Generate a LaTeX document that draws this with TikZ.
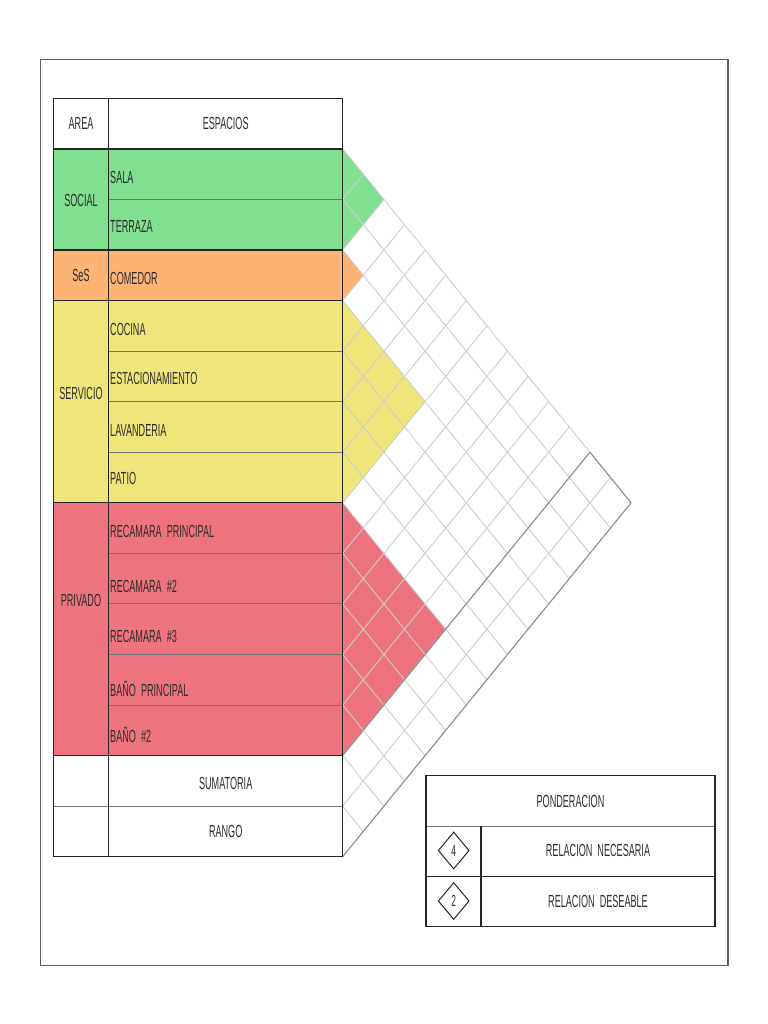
\documentclass[tikz,border=0pt]{standalone}
\usepackage{fontspec}
\setmainfont{Liberation Sans}[FakeStretch=0.52]
\usetikzlibrary{shapes.geometric}
\definecolor{cgreen}{RGB}{128,224,143}
\definecolor{corange}{RGB}{253,179,116}
\definecolor{cyellow}{RGB}{238,230,122}
\definecolor{cred}{RGB}{237,116,126}
\definecolor{gridgray}{RGB}{205,205,205}
\definecolor{darkgrid}{RGB}{140,140,140}
\definecolor{txt}{RGB}{45,45,45}
\definecolor{framegray}{RGB}{95,95,95}
\def\XLeft{53.3}
\def\XMid{108.7}
\def\XRight{342.7}
\def\YTop{98.3}
\def\RowH{50.56}
\def\StepX{41.2}
\begin{document}
\begin{tikzpicture}[x=1bp,y=-1bp,
  lbl/.style={inner sep=0pt, text=txt, font=\fontsize{17.5bp}{20bp}\selectfont, text height=12.5bp, text depth=0pt},
  lblw/.style={lbl, anchor=west},
  gridl/.style={draw=gridgray, line width=0.9bp},
  darkl/.style={draw=darkgrid, line width=1bp},
  thinrow/.style={draw=black!55, line width=1bp},
  grouprow/.style={draw=black!85, line width=1.3bp},
  legdia/.style={diamond, draw=black!85, line width=1bp, inner sep=0pt, minimum width=31bp, minimum height=37bp, text=txt, font=\fontsize{16bp}{18bp}\selectfont}
]
\useasboundingbox (0,0) rectangle (768,1024);
% outer frame
\draw[draw=framegray, line width=1.4bp] (40.5,59.5) rectangle (728,965.5);

% coloured rows and triangles
\fill[cgreen] (\XLeft,{\YTop+1*\RowH}) rectangle (\XRight,{\YTop+3*\RowH});
\fill[cgreen] (\XRight,{\YTop+1*\RowH}) -- ({\XRight+\StepX},{\YTop+2*\RowH}) -- (\XRight,{\YTop+3*\RowH}) -- cycle;
\fill[corange] (\XLeft,{\YTop+3*\RowH}) rectangle (\XRight,{\YTop+4*\RowH});
\fill[corange] (\XRight,{\YTop+3*\RowH}) -- ({\XRight+0.5*\StepX},{\YTop+3.5*\RowH}) -- (\XRight,{\YTop+4*\RowH}) -- cycle;
\fill[cyellow] (\XLeft,{\YTop+4*\RowH}) rectangle (\XRight,{\YTop+8*\RowH});
\fill[cyellow] (\XRight,{\YTop+4*\RowH}) -- ({\XRight+2*\StepX},{\YTop+6*\RowH}) -- (\XRight,{\YTop+8*\RowH}) -- cycle;
\fill[cred] (\XLeft,{\YTop+8*\RowH}) rectangle (\XRight,{\YTop+13*\RowH});
\fill[cred] (\XRight,{\YTop+8*\RowH}) -- ({\XRight+2.5*\StepX},{\YTop+10.5*\RowH}) -- (\XRight,{\YTop+13*\RowH}) -- cycle;

% diamond grid
\foreach \k in {0,...,14}{
  \pgfmathsetmacro\yk{\YTop+(\k+1)*\RowH}
  \pgfmathsetmacro\td{(14-\k)/2}
  \pgfmathsetmacro\tu{\k/2}
  \draw[gridl] (\XRight,\yk) -- ++(\td*\StepX,\td*\RowH);
  \draw[gridl] (\XRight,\yk) -- ++(\tu*\StepX,-\tu*\RowH);
}
\coordinate (p12) at (\XRight,{\YTop+13*\RowH});
\coordinate (apexA) at ({\XRight+6*\StepX},{\YTop+7*\RowH});
\coordinate (apexB) at ({\XRight+7*\StepX},{\YTop+8*\RowH});
\coordinate (p14) at (\XRight,{\YTop+15*\RowH});
\draw[darkl] (p12) -- (apexA) -- (apexB) -- (p14);

% table lines
\foreach \k in {2,5,6,7,9,10,11,12}{
  \draw[thinrow] (\XMid,{\YTop+\k*\RowH}) -- (\XRight,{\YTop+\k*\RowH});
}
\draw[thinrow] (\XLeft,{\YTop+14*\RowH}) -- (\XRight,{\YTop+14*\RowH});
\foreach \k in {1,3,4,8,13}{
  \draw[grouprow] (\XLeft,{\YTop+\k*\RowH}) -- (\XRight,{\YTop+\k*\RowH});
}
\draw[grouprow] (\XMid,\YTop) -- (\XMid,{\YTop+15*\RowH});
\draw[grouprow] (\XLeft,\YTop) rectangle (\XRight,{\YTop+15*\RowH});

% header
\node[lbl] (area) at (81,123.6) {AREA};
\node[lbl] (espacios) at (225.7,123.6) {ESPACIOS};
% areas
\node[lbl] (social) at (81,200) {SOCIAL};
\node[lbl] (ses) at (81,275.3) {SeS};
\node[lbl] (servicio) at (81,393) {SERVICIO};
\node[lbl] (privado) at (81,600) {PRIVADO};
% spaces
\node[lblw] (sala) at (110,177) {SALA};
\node[lblw] (terraza) at (110,226.7) {TERRAZA};
\node[lblw] (comedor) at (110,278.3) {COMEDOR};
\node[lblw] (cocina) at (110,328.8) {COCINA};
\node[lblw] (estac) at (110,378.3) {ESTACIONAMIENTO};
\node[lblw] (lavan) at (110,430) {LAVANDERIA};
\node[lblw] (patio) at (110,478.3) {PATIO};
\node[lblw] (recp) at (110,531.7) {RECAMARA\ \ PRINCIPAL};
\node[lblw] (rec2) at (110,586.7) {RECAMARA\ \ \#2};
\node[lblw] (rec3) at (110,636.7) {RECAMARA\ \ \#3};
\node[lblw] (banop) at (110,690) {BAÑO\ \ PRINCIPAL};
\node[lblw] (bano2) at (110,736.7) {BAÑO\ \ \#2};
\node[lbl] (suma) at (225.7,783.3) {SUMATORIA};
\node[lbl] (rango) at (225.7,831.7) {RANGO};

% legend
\draw[draw=black!55, line width=1bp] (426,826) -- (715,826);
\draw[draw=black!85, line width=1.3bp] (426,876.3) -- (715,876.3);
\draw[draw=black!85, line width=1.3bp] (481,826) -- (481,926.7);
\draw[draw=black!85, line width=1.3bp] (426,775.4) rectangle (715,926.7);
\node[lbl] (pond) at (570.5,801.5) {PONDERACION};
\node[legdia] (d4) at (453.7,850.5) {4};
\node[legdia] (d2) at (453.7,901) {2};
\node[lbl] (necesaria) at (598,850.5) {RELACION\ \ NECESARIA};
\node[lbl] (deseable) at (598,901) {RELACION\ \ DESEABLE};
\end{tikzpicture}
\end{document}
